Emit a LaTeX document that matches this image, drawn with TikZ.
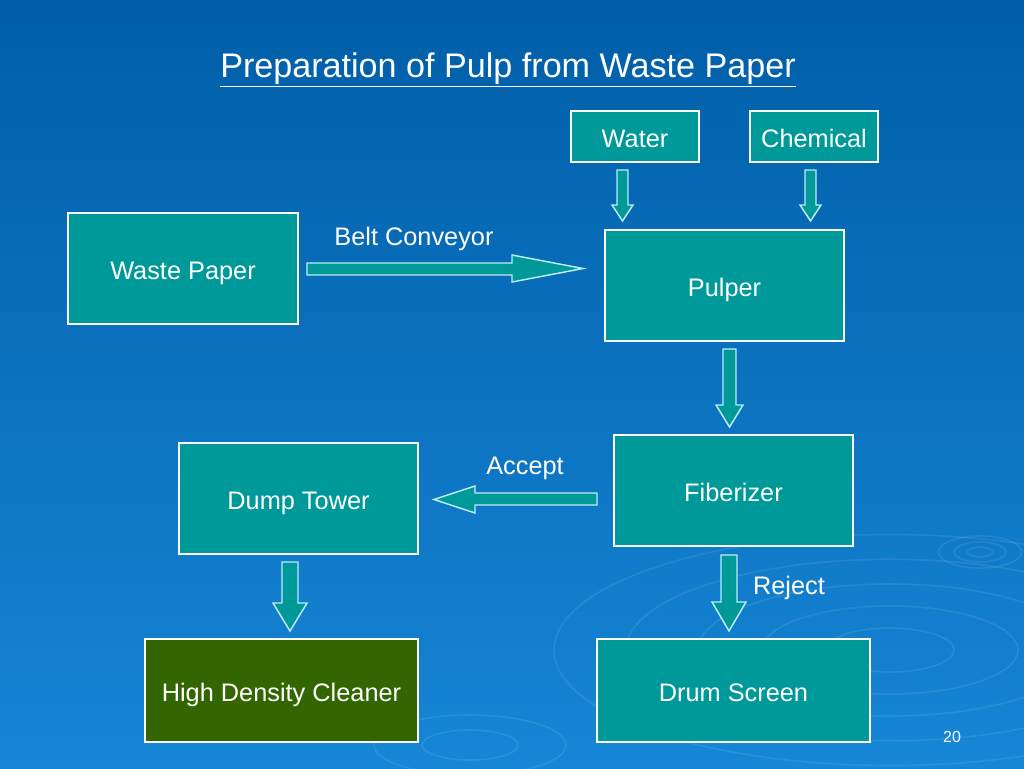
\documentclass[tikz,border=0pt]{standalone}
\usepackage{fontspec}
\setmainfont{Liberation Sans}
\usetikzlibrary{shapes.geometric}
\definecolor{bgtop}{RGB}{0,94,168}
\definecolor{bgbot}{RGB}{22,134,214}
\definecolor{tealbox}{RGB}{0,153,153}
\definecolor{greenbox}{RGB}{51,102,0}
\definecolor{arrowline}{RGB}{190,235,245}
\tikzset{
  box/.style={draw=white, line width=0.8pt, fill=tealbox, inner sep=0pt, text=white, font=\fontsize{19}{22}\selectfont, text height=15.8pt, text depth=0pt},
  barrow/.style={draw=arrowline, line width=1.1pt, fill=tealbox, line join=miter},
  lbl/.style={text=white, font=\fontsize{19}{22}\selectfont, inner sep=0pt, text height=13.6pt, text depth=0pt},
  ripple/.style={draw=white, opacity=0.09, line width=1.2pt}
}
\begin{document}
\begin{tikzpicture}[x=0.75pt, y=-0.75pt]
\useasboundingbox (0,0) rectangle (1024,768);
\shade[top color=bgtop, bottom color=bgbot] (0,0) rectangle (1024,768);
% ripples
\foreach \r in {40,80,120,165,210}{
  \draw[ripple] (890,650) ellipse ({\r*1.6} and {\r*0.55});
}
\foreach \r in {10,20,32}{
  \draw[ripple] (980,552) ellipse ({\r*1.3} and {\r*0.5});
}
\foreach \r in {30,60}{
  \draw[ripple] (470,745) ellipse ({\r*1.6} and {\r*0.5});
}
% title
\node[text=white, font=\fontsize{25.6}{30}\selectfont, inner sep=0pt] (title) at (508,70) {\underline{Preparation of Pulp from Waste Paper}};
% boxes
\node[box, minimum width=128*0.75pt, minimum height=51*0.75pt] (water) at (635,136.5) {Water};
\node[box, minimum width=128*0.75pt, minimum height=51*0.75pt] (chem) at (814,136.5) {Chemical};
\node[box, minimum width=230*0.75pt, minimum height=111*0.75pt] (waste) at (183,268.5) {Waste Paper};
\node[box, minimum width=239*0.75pt, minimum height=111*0.75pt] (pulper) at (724.5,285.5) {Pulper};
\node[box, minimum width=239*0.75pt, minimum height=111*0.75pt] (fiber) at (733.5,490.5) {Fiberizer};
\node[box, minimum width=239*0.75pt, minimum height=111*0.75pt] (dump) at (298.5,498.5) {Dump Tower};
\node[box, fill=greenbox, minimum width=273*0.75pt, minimum height=103*0.75pt] (hdc) at (281.5,690.5) {High Density Cleaner};
\node[box, minimum width=273*0.75pt, minimum height=103*0.75pt] (drum) at (733.5,690.5) {Drum Screen};
% labels
\node[lbl] (belt) at (414,236) {Belt Conveyor};
\node[lbl] (accept) at (525,465) {Accept};
\node[lbl] (reject) at (789,585) {Reject};
\node[text=white, font=\fontsize{12}{14}\selectfont, inner sep=0pt] (pg) at (952,737) {20};
% block arrows
% belt conveyor
\draw[barrow] (307,263) -- (512,263) -- (512,255) -- (583,268.5) -- (512,282) -- (512,275) -- (307,275) -- cycle;
% water
\draw[barrow] (617,170) -- (628,170) -- (628,205) -- (633,205) -- (622.5,221) -- (612,205) -- (617,205) -- cycle;
% chemical
\draw[barrow] (805,170) -- (816,170) -- (816,205) -- (821,205) -- (810.5,221) -- (800,205) -- (805,205) -- cycle;
% pulper -> fiberizer
\draw[barrow] (723,349) -- (736,349) -- (736,405) -- (743,405) -- (729.5,427) -- (716,405) -- (723,405) -- cycle;
% accept
\draw[barrow] (597,493) -- (475,493) -- (475,486) -- (434,499.5) -- (475,513) -- (475,505) -- (597,505) -- cycle;
% dump -> hdc
\draw[barrow] (282,562) -- (298,562) -- (298,603) -- (307,603) -- (290,631) -- (273,603) -- (282,603) -- cycle;
% reject
\draw[barrow] (721,555) -- (737,555) -- (737,602) -- (746,602) -- (729,631) -- (712,602) -- (721,602) -- cycle;
\end{tikzpicture}
\end{document}
